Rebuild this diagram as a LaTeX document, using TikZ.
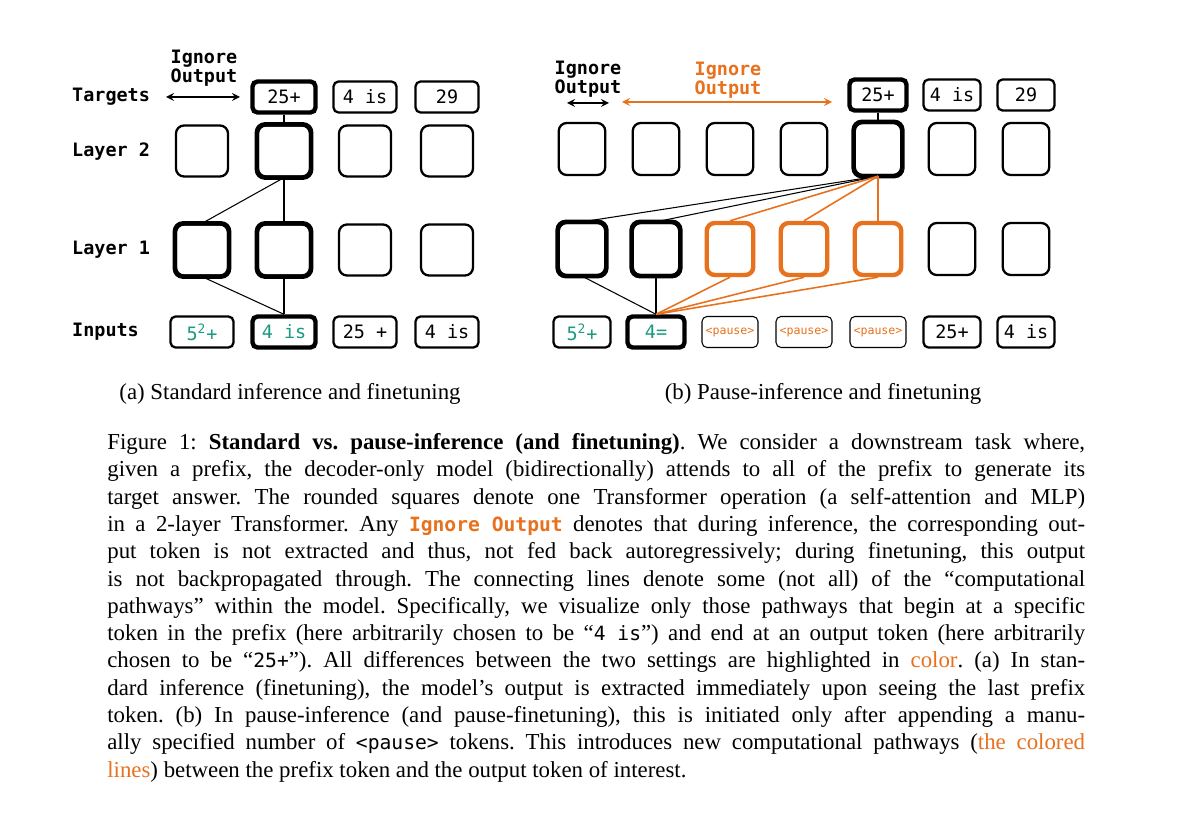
\documentclass[tikz,border=0pt]{standalone}
\usepackage{fontspec}
\setmainfont{Liberation Serif}
\setmonofont{DejaVu Sans Mono}
\newfontfamily\capmono[Scale=0.86,WordSpace={1,0,0}]{DejaVu Sans Mono}
\definecolor{org}{RGB}{232,113,30}
\definecolor{grn}{RGB}{26,154,128}
\begin{document}
\begin{tikzpicture}[x=0.02cm,y=-0.02cm,
  lab/.style={font=\ttfamily\fontsize{10.5}{12}\selectfont},
  cell/.style={draw,line width=1.3pt,rounded corners=0.16cm,minimum width=1.04cm,minimum height=1.02cm,inner sep=0pt},
  cellR/.style={cell,minimum width=0.93cm,minimum height=1.04cm},
  hot/.style={line width=2.5pt},
  tok/.style={draw,line width=1.3pt,rounded corners=0.1cm,minimum width=1.26cm,minimum height=0.62cm,inner sep=0pt,font=\ttfamily\fontsize{10.5}{12}\selectfont},
  tokR/.style={tok,minimum width=1.14cm},
  pz/.style={tok,minimum width=1.12cm,line width=0.6pt,text=org,font=\ttfamily\fontsize{6.6}{8}\selectfont},
  con/.style={line width=0.6pt},
  ocon/.style={con,draw=org,line width=0.9pt},
  arr/.style={<->,>=stealth,line width=1pt},
  sub/.style={font=\fontsize{13}{15.6}\selectfont}]
\fill[white] (0,0) rectangle (1190,834);
% ---------- left panel
\node[lab,anchor=west] (tl) at (66,97) {\bfseries Targets};
\node[lab,anchor=west] (l2l) at (66,152) {\bfseries Layer 2};
\node[lab,anchor=west] (l1l) at (66,250) {\bfseries Layer 1};
\node[lab,anchor=west] (il) at (66,332) {\bfseries Inputs};
\node[lab,align=center] (igl) at (204,68) {\bfseries Ignore\\[-1pt]\bfseries Output};
\coordinate (ia1) at (166,97); \coordinate (ia2) at (240,97);
\draw[arr] (ia1) -- (ia2);
\foreach \i/\x in {1/202,2/284,3/365,4/447}{
  \node[cell] (a2\i) at (\x,151) {};
  \node[cell] (a1\i) at (\x,250) {};
}
\draw[hot,rounded corners=0.16cm] (a22.south west) rectangle (a22.north east);
\draw[hot,rounded corners=0.16cm] (a11.south west) rectangle (a11.north east);
\draw[hot,rounded corners=0.16cm] (a12.south west) rectangle (a12.north east);
\node[tok,line width=2.5pt] (at1) at (284,97) {25+};
\node[tok] (at2) at (365,97) {4 is};
\node[tok] (at3) at (447,97) {29};
\node[tok,text=grn] (ai1) at (202,332) {5\textsuperscript{2}+};
\node[tok,line width=2.5pt,text=grn] (ai2) at (284,332) {4 is};
\node[tok] (ai3) at (365,332) {25 +};
\node[tok] (ai4) at (447,332) {4 is};
\draw[con] (at1) -- (a22);
\draw[con] (a22.south) -- (a11.north);
\draw[con] (a22.south) -- (a12.north);
\draw[con] (ai2.north) -- (a11.south);
\draw[con] (ai2.north) -- (a12.south);
% ---------- right panel
\node[lab,align=center] (igr) at (588,79) {\bfseries Ignore\\[-1pt]\bfseries Output};
\coordinate (ib1) at (567,103); \coordinate (ib2) at (609,103);
\draw[arr] (ib1) -- (ib2);
\node[lab,align=center,text=org] (igo) at (728,80) {\bfseries Ignore\\[-1pt]\bfseries Output};
\coordinate (ic1) at (622,102); \coordinate (ic2) at (832,102);
\draw[arr,draw=org] (ic1) -- (ic2);
\foreach \i/\x in {1/582,2/656,3/730,4/804,5/878,6/952,7/1026}{
  \node[cellR] (b2\i) at (\x,149) {};
}
\foreach \i/\x in {1/582,2/656,6/952,7/1026}{
  \node[cellR] (b1\i) at (\x,249) {};
}
\foreach \i/\x in {3/730,4/804,5/878}{
  \node[cellR,draw=org,line width=2.5pt] (b1\i) at (\x,249) {};
}
\draw[hot,rounded corners=0.16cm] (b25.south west) rectangle (b25.north east);
\draw[hot,rounded corners=0.16cm] (b11.south west) rectangle (b11.north east);
\draw[hot,rounded corners=0.16cm] (b12.south west) rectangle (b12.north east);
\node[tokR,line width=2.5pt] (bt1) at (878,95) {25+};
\node[tokR] (bt2) at (952,95) {4 is};
\node[tokR] (bt3) at (1026,95) {29};
\node[tokR,text=grn] (bi1) at (582,332) {5\textsuperscript{2}+};
\node[tokR,line width=2.5pt,text=grn] (bi2) at (656,332) {4=};
\node[pz] (bi3) at (730,332) {<pause>};
\node[pz] (bi4) at (804,332) {<pause>};
\node[pz] (bi5) at (878,332) {<pause>};
\node[tokR] (bi6) at (952,332) {25+};
\node[tokR] (bi7) at (1026,332) {4 is};
\draw[con] (bt1) -- (b25);
\draw[con] (b25.south) -- (b11.north);
\draw[con] (b25.south) -- (b12.north);
\draw[ocon] (b25.south) -- (b13.north);
\draw[ocon] (b25.south) -- (b14.north);
\draw[ocon] (b25.south) -- (b15.north);
\draw[con] (bi2.north) -- (b11.south);
\draw[con] (bi2.north) -- (b12.south);
\draw[ocon] (bi2.north) -- (b13.south);
\draw[ocon] (bi2.north) -- (b14.south);
\draw[ocon] (bi2.north) -- (b15.south);
% ---------- subcaptions
\node[sub] (sa) at (290,394) {(a) Standard inference and finetuning};
\node[sub] (sb) at (823,394) {(b) Pause-inference and finetuning};
% ---------- caption
\node[anchor=north west,inner sep=0pt] (cap) at (107,433) {\parbox{19.56cm}{\fontsize{13}{15.55}\selectfont\frenchspacing
Figure 1: \textbf{Standard vs. pause-inference (and finetuning)}. We consider a downstream task where,\linebreak
given a prefix, the decoder-only model (bidirectionally) attends to all of the prefix to generate its\linebreak
target answer. The rounded squares denote one Transformer operation (a self-attention and MLP)\linebreak
in a 2-layer Transformer. Any {\capmono\bfseries\color{org}Ignore Output} denotes that during inference, the corresponding out-\linebreak
put token is not extracted and thus, not fed back autoregressively; during finetuning, this output\linebreak
is not backpropagated through. The connecting lines denote some (not all) of the “computational\linebreak
pathways” within the model. Specifically, we visualize only those pathways that begin at a specific\linebreak
token in the prefix (here arbitrarily chosen to be “{\capmono 4 is}”) and end at an output token (here arbitrarily\linebreak
chosen to be “{\capmono 25+}”). All differences between the two settings are highlighted in {\color{org}color}. (a) In stan-\linebreak
dard inference (finetuning), the model’s output is extracted immediately upon seeing the last prefix\linebreak
token. (b) In pause-inference (and pause-finetuning), this is initiated only after appending a manu-\linebreak
ally specified number of {\capmono <pause>} tokens. This introduces new computational pathways ({\color{org}the colored\linebreak
lines}) between the prefix token and the output token of interest.}};
\end{tikzpicture}
\end{document}
